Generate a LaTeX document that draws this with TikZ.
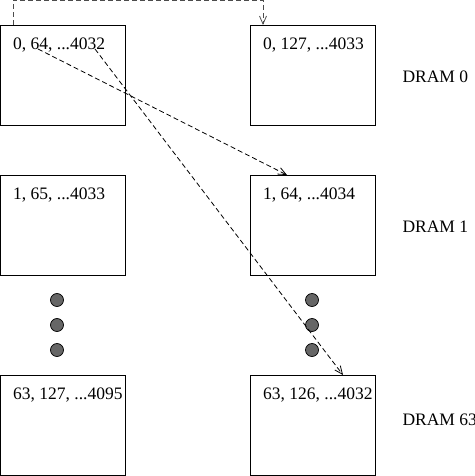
\documentclass[tikz,border=0pt]{standalone}
\usepackage{fontspec}
\setmainfont{Liberation Serif}
\usetikzlibrary{arrows.meta}

\begin{document}
\begin{tikzpicture}[x=1pt, y=-1pt, every node/.style={font=\fontsize{17.5}{20}\selectfont},
	bank/.style={draw, line width=0.9pt, minimum width=125pt, minimum height=100pt, inner sep=0pt, anchor=north west},
	entry/.style={anchor=north west, inner sep=0pt},
	link/.style={dash pattern=on 5pt off 3pt, line width=0.8pt, -{Straight Barb[length=8pt, width=7pt]}},
	gap/.style={circle, draw, line width=0.7pt, fill=black!60, minimum size=13pt, inner sep=0pt}]

	\useasboundingbox (0,0) rectangle (474,476);
	\clip (0,0) rectangle (474,476);

	% Memory banks
	\node[bank] (b00) at (0,25) {};
	\node[bank] (b01) at (250,25) {};
	\node[bank] (b10) at (0,175) {};
	\node[bank] (b11) at (250,175) {};
	\node[bank] (b20) at (0,375) {};
	\node[bank] (b21) at (250,375) {};

	% Address lists
	\node[entry] (e00) at (13,38) {0, 64, ...4032};
	\node[entry] (e01) at (263,38) {0, 127, ...4033};
	\node[entry] (e10) at (13,188) {1, 65, ...4033};
	\node[entry] (e11) at (263,188) {1, 64, ...4034};
	\node[entry] (e20) at (13,388) {63, 127, ...4095};
	\node[entry] (e21) at (263,388) {63, 126, ...4032};

	% DRAM labels
	\node[anchor=west] (d0) at (399,77) {DRAM 0};
	\node[anchor=west] (d1) at (399,227) {DRAM 1};
	\node[anchor=west] (d63) at (399,420) {DRAM 63};

	% Ellipsis dots
	\foreach \y in {300,325,350} {
		\node[gap] (gl\y) at (57,\y) {};
		\node[gap] (gr\y) at (312,\y) {};
	}

	% Mapping arrows
	\coordinate (top0) at (13,25);
	\coordinate (top1) at (263,25);
	\coordinate (s64) at (38,49);
	\coordinate (s4032) at (95,49);
	\coordinate (t1) at (287,175);
	\coordinate (t63) at (343,375);
	\draw[link, black!70] (top0) -- ++(0,-25) -| (top1);
	\draw[link] (s64) -- (t1);
	\draw[link] (s4032) -- (t63);

\end{tikzpicture}
\end{document}
